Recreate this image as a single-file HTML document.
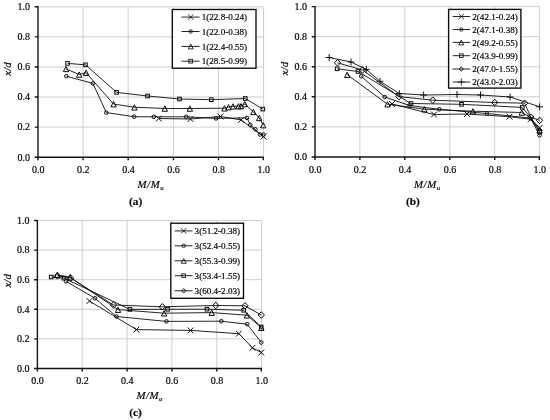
<!DOCTYPE html>
<html lang="en">
<head>
<meta charset="utf-8">
<title>x/d versus M/Mu</title>
<style>
html,body{margin:0;padding:0;background:#fff;}
body{width:550px;height:420px;overflow:hidden;}
svg{display:block;}
text{font-family:"Liberation Serif","DejaVu Serif",serif;fill:#000;stroke:#000;stroke-width:0.18px;}
.tk text{font-size:10px;}
.lg text{font-size:9.1px;}
.ti{font-size:10.8px;font-style:italic;letter-spacing:0.55px;}
.sub{font-size:6.8px;letter-spacing:0;}
.yt{letter-spacing:0.1px;}
.cap{font-size:11.4px;font-weight:bold;fill:#111;}
</style>
</head>
<body>
<svg width="550" height="420" viewBox="0 0 550 420">
<rect width="550" height="420" fill="#fff"/>
<path d="M83.1 6.8V157.2M38.0 127.1H263.6M128.2 6.8V157.2M38.0 97.0H263.6M173.4 6.8V157.2M38.0 67.0H263.6M218.5 6.8V157.2M38.0 36.9H263.6M263.6 6.8V157.2M38.0 6.8H263.6" stroke="#cecece" stroke-width="1" fill="none"/>
<g stroke="#0c0c0c" fill="none" stroke-width="0.9" stroke-linejoin="round">
<path d="M158.8 118.5L190.4 119.0L220.4 116.5L241.0 119.9L263.5 136.6"/>
<path d="M66.3 76.2L92.9 83.4L106.3 112.6L134.2 116.7L153.8 116.8L186.2 116.8L216.0 118.4L247.0 117.9L250.3 124.9L255.4 129.3L260.1 134.5L263.4 134.6"/>
<path d="M66.0 68.9L79.2 74.5L86.1 72.7L113.6 104.1L134.4 107.2L164.8 108.5L189.9 108.5L224.5 108.2L228.5 107.1L233.0 106.2L238.5 106.2L241.0 106.1L244.8 104.0L253.4 111.9L259.2 117.9L263.2 125.1"/>
<path d="M67.5 63.4L85.5 64.8L116.6 92.4L147.6 96.0L179.5 99.0L211.3 99.7L245.3 98.5L262.8 109.1"/>
</g>
<g stroke="#0c0c0c" fill="none" stroke-width="1.0">
<path d="M155.90 115.60L161.70 121.40M155.90 121.40L161.70 115.60"/>
<path d="M187.50 116.10L193.30 121.90M187.50 121.90L193.30 116.10"/>
<path d="M217.50 113.60L223.30 119.40M217.50 119.40L223.30 113.60"/>
<path d="M238.10 117.00L243.90 122.80M238.10 122.80L243.90 117.00"/>
<path d="M260.60 133.70L266.40 139.50M260.60 139.50L266.40 133.70"/>
<circle cx="66.30" cy="76.20" r="1.8"/>
<circle cx="92.90" cy="83.40" r="1.8"/>
<circle cx="106.30" cy="112.60" r="1.8"/>
<circle cx="134.20" cy="116.70" r="1.8"/>
<circle cx="153.80" cy="116.80" r="1.8"/>
<circle cx="186.20" cy="116.80" r="1.8"/>
<circle cx="216.00" cy="118.40" r="1.8"/>
<circle cx="247.00" cy="117.90" r="1.8"/>
<circle cx="250.30" cy="124.90" r="1.8"/>
<circle cx="255.40" cy="129.30" r="1.8"/>
<circle cx="260.10" cy="134.50" r="1.8"/>
<circle cx="263.40" cy="134.60" r="1.8"/>
<path d="M66.00 66.35L68.70 71.65L63.30 71.65Z"/>
<path d="M79.20 71.95L81.90 77.25L76.50 77.25Z"/>
<path d="M86.10 70.15L88.80 75.45L83.40 75.45Z"/>
<path d="M113.60 101.55L116.30 106.85L110.90 106.85Z"/>
<path d="M134.40 104.75L137.10 110.05L131.70 110.05Z"/>
<path d="M164.80 105.95L167.50 111.25L162.10 111.25Z"/>
<path d="M189.90 105.95L192.60 111.25L187.20 111.25Z"/>
<path d="M224.50 105.75L227.20 111.05L221.80 111.05Z"/>
<path d="M228.50 104.55L231.20 109.85L225.80 109.85Z"/>
<path d="M233.00 103.75L235.70 109.05L230.30 109.05Z"/>
<path d="M238.50 103.65L241.20 108.95L235.80 108.95Z"/>
<path d="M241.00 103.55L243.70 108.85L238.30 108.85Z"/>
<path d="M244.80 101.45L247.50 106.75L242.10 106.75Z"/>
<path d="M253.40 109.35L256.10 114.65L250.70 114.65Z"/>
<path d="M259.20 115.35L261.90 120.65L256.50 120.65Z"/>
<path d="M263.20 122.55L265.90 127.85L260.50 127.85Z"/>
<rect x="65.70" y="61.60" width="3.60" height="3.60"/>
<rect x="83.70" y="63.00" width="3.60" height="3.60"/>
<rect x="114.80" y="90.60" width="3.60" height="3.60"/>
<rect x="145.80" y="94.20" width="3.60" height="3.60"/>
<rect x="177.70" y="97.20" width="3.60" height="3.60"/>
<rect x="209.50" y="97.90" width="3.60" height="3.60"/>
<rect x="243.50" y="96.70" width="3.60" height="3.60"/>
<rect x="261.00" y="107.30" width="3.60" height="3.60"/>
</g>
<path d="M38.0 6.3V157.2H264.0M38.0 157.2v3M38.0 157.2h-3.3M83.1 157.2v3M38.0 127.1h-3.3M128.2 157.2v3M38.0 97.0h-3.3M173.4 157.2v3M38.0 67.0h-3.3M218.5 157.2v3M38.0 36.9h-3.3M263.3 157.2v3M38.0 6.8h-3.3" stroke="#141414" stroke-width="1.4" fill="none"/>
<g class="tk">
<text x="38.20" y="172.8" text-anchor="middle">0.0</text>
<text x="30.0" y="160.5" text-anchor="end">0.0</text>
<text x="83.32" y="172.8" text-anchor="middle">0.2</text>
<text x="30.0" y="130.4" text-anchor="end">0.2</text>
<text x="128.44" y="172.8" text-anchor="middle">0.4</text>
<text x="30.0" y="100.3" text-anchor="end">0.4</text>
<text x="173.56" y="172.8" text-anchor="middle">0.6</text>
<text x="30.0" y="70.3" text-anchor="end">0.6</text>
<text x="218.68" y="172.8" text-anchor="middle">0.8</text>
<text x="30.0" y="40.2" text-anchor="end">0.8</text>
<text x="263.80" y="172.8" text-anchor="middle">1.0</text>
<text x="30.0" y="10.1" text-anchor="end">1.0</text>
</g>
<text class="ti" x="150.6" y="187.7" text-anchor="middle">M/M<tspan class="sub" dy="2.3">u</tspan></text>
<text class="ti yt" transform="translate(10.6 69.0) rotate(-90)" text-anchor="middle">x/d</text>
<text class="cap" x="135.7" y="205.2" text-anchor="middle">(a)</text>
<rect x="172.3" y="9.5" width="83.7" height="58.7" fill="#fff" stroke="#0a0a0a" stroke-width="1.35"/>
<g stroke="#0c0c0c" fill="none" stroke-width="0.9">
<path d="M181.5 17.1H199.6"/>
<path d="M188.00 14.40L193.40 19.80M188.00 19.80L193.40 14.40" stroke-width="0.85"/>
<path d="M181.5 31.5H199.6"/>
<circle cx="190.70" cy="31.50" r="1.7" stroke-width="0.85"/>
<path d="M181.5 46.4H199.6"/>
<path d="M190.70 44.10L193.20 48.90L188.20 48.90Z" stroke-width="0.85"/>
<path d="M181.5 61.2H199.6"/>
<rect x="188.85" y="59.35" width="3.70" height="3.70" stroke-width="0.85"/>
</g>
<g class="lg">
<text x="201.7" y="20.35">1(22.8-0.24)</text>
<text x="201.7" y="34.75">1(22.0-0.38)</text>
<text x="201.7" y="49.65">1(22.4-0.55)</text>
<text x="201.7" y="64.45">1(28.5-0.99)</text>
</g>
<path d="M359.9 6.6V157.0M315.0 126.9H539.6M404.8 6.6V157.0M315.0 96.8H539.6M449.8 6.6V157.0M315.0 66.8H539.6M494.7 6.6V157.0M315.0 36.7H539.6M539.6 6.6V157.0M315.0 6.6H539.6" stroke="#cecece" stroke-width="1" fill="none"/>
<g stroke="#0c0c0c" fill="none" stroke-width="0.9" stroke-linejoin="round">
<path d="M392.0 104.0L434.0 114.5L467.0 114.0L509.5 116.7L530.6 119.2L539.7 127.8"/>
<path d="M361.3 76.3L384.7 97.0L409.5 105.5L439.3 109.3L486.9 113.5L530.6 118.2L539.6 135.3"/>
<path d="M347.2 74.7L387.5 104.2L424.3 109.2L472.9 111.2L521.8 112.5L530.8 117.7L539.6 130.2"/>
<path d="M337.2 68.8L358.0 71.5L411.0 103.5L461.5 104.3L522.2 107.4L530.8 117.6L539.6 132.0"/>
<path d="M337.5 62.8L362.5 70.0L399.0 96.6L432.8 100.2L494.7 102.5L524.6 103.2L530.8 117.2L539.6 120.4"/>
<path d="M329.2 57.5L351.0 62.0L366.3 69.4L380.0 81.3L399.3 93.5L423.6 95.0L457.0 94.5L480.5 95.0L510.1 97.0L539.6 106.8"/>
</g>
<g stroke="#0c0c0c" fill="none" stroke-width="1.0">
<path d="M389.10 101.10L394.90 106.90M389.10 106.90L394.90 101.10"/>
<path d="M431.10 111.60L436.90 117.40M431.10 117.40L436.90 111.60"/>
<path d="M464.10 111.10L469.90 116.90M464.10 116.90L469.90 111.10"/>
<path d="M506.60 113.80L512.40 119.60M506.60 119.60L512.40 113.80"/>
<path d="M527.70 116.30L533.50 122.10M527.70 122.10L533.50 116.30"/>
<path d="M536.80 124.90L542.60 130.70M536.80 130.70L542.60 124.90"/>
<circle cx="361.30" cy="76.30" r="1.8"/>
<circle cx="384.70" cy="97.00" r="1.8"/>
<circle cx="409.50" cy="105.50" r="1.8"/>
<circle cx="439.30" cy="109.30" r="1.8"/>
<circle cx="486.90" cy="113.50" r="1.8"/>
<circle cx="539.60" cy="135.30" r="1.8"/>
<path d="M347.20 72.15L349.90 77.45L344.50 77.45Z"/>
<path d="M387.50 101.65L390.20 106.95L384.80 106.95Z"/>
<path d="M424.30 106.65L427.00 111.95L421.60 111.95Z"/>
<path d="M472.90 108.75L475.60 114.05L470.20 114.05Z"/>
<path d="M521.80 109.95L524.50 115.25L519.10 115.25Z"/>
<path d="M539.60 127.65L542.30 132.95L536.90 132.95Z"/>
<rect x="335.40" y="67.00" width="3.60" height="3.60"/>
<rect x="356.20" y="69.70" width="3.60" height="3.60"/>
<rect x="409.20" y="101.70" width="3.60" height="3.60"/>
<rect x="459.70" y="102.50" width="3.60" height="3.60"/>
<rect x="520.40" y="105.60" width="3.60" height="3.60"/>
<rect x="537.80" y="130.20" width="3.60" height="3.60"/>
<path d="M337.50 59.50L340.60 62.80L337.50 66.10L334.40 62.80Z"/>
<path d="M362.50 66.70L365.60 70.00L362.50 73.30L359.40 70.00Z"/>
<path d="M399.00 93.30L402.10 96.60L399.00 99.90L395.90 96.60Z"/>
<path d="M432.80 96.90L435.90 100.20L432.80 103.50L429.70 100.20Z"/>
<path d="M494.70 99.20L497.80 102.50L494.70 105.80L491.60 102.50Z"/>
<path d="M524.60 99.90L527.70 103.20L524.60 106.50L521.50 103.20Z"/>
<path d="M530.80 113.90L533.90 117.20L530.80 120.50L527.70 117.20Z"/>
<path d="M539.60 117.10L542.70 120.40L539.60 123.70L536.50 120.40Z"/>
<path d="M325.80 57.50L332.60 57.50M329.20 54.10L329.20 60.90"/>
<path d="M347.60 62.00L354.40 62.00M351.00 58.60L351.00 65.40"/>
<path d="M362.90 69.40L369.70 69.40M366.30 66.00L366.30 72.80"/>
<path d="M376.60 81.30L383.40 81.30M380.00 77.90L380.00 84.70"/>
<path d="M395.90 93.50L402.70 93.50M399.30 90.10L399.30 96.90"/>
<path d="M420.20 95.00L427.00 95.00M423.60 91.60L423.60 98.40"/>
<path d="M453.60 94.50L460.40 94.50M457.00 91.10L457.00 97.90"/>
<path d="M477.10 95.00L483.90 95.00M480.50 91.60L480.50 98.40"/>
<path d="M506.70 97.00L513.50 97.00M510.10 93.60L510.10 100.40"/>
<path d="M536.20 106.80L543.00 106.80M539.60 103.40L539.60 110.20"/>
</g>
<path d="M315.0 6.1V157.0H540.0M315.0 157.0v3M315.0 157.0h-3.3M359.9 157.0v3M315.0 126.9h-3.3M404.8 157.0v3M315.0 96.8h-3.3M449.8 157.0v3M315.0 66.8h-3.3M494.7 157.0v3M315.0 36.7h-3.3M539.3 157.0v3M315.0 6.6h-3.3" stroke="#141414" stroke-width="1.4" fill="none"/>
<g class="tk">
<text x="315.20" y="172.6" text-anchor="middle">0.0</text>
<text x="307.0" y="160.3" text-anchor="end">0.0</text>
<text x="360.12" y="172.6" text-anchor="middle">0.2</text>
<text x="307.0" y="130.2" text-anchor="end">0.2</text>
<text x="405.04" y="172.6" text-anchor="middle">0.4</text>
<text x="307.0" y="100.1" text-anchor="end">0.4</text>
<text x="449.96" y="172.6" text-anchor="middle">0.6</text>
<text x="307.0" y="70.1" text-anchor="end">0.6</text>
<text x="494.88" y="172.6" text-anchor="middle">0.8</text>
<text x="307.0" y="40.0" text-anchor="end">0.8</text>
<text x="539.80" y="172.6" text-anchor="middle">1.0</text>
<text x="307.0" y="9.9" text-anchor="end">1.0</text>
</g>
<text class="ti" x="427.1" y="187.7" text-anchor="middle">M/M<tspan class="sub" dy="2.3">u</tspan></text>
<text class="ti yt" transform="translate(288.3 68.4) rotate(-90)" text-anchor="middle">x/d</text>
<text class="cap" x="412.9" y="205.2" text-anchor="middle">(b)</text>
<rect x="448.6" y="9.4" width="72.3" height="78.7" fill="#fff" stroke="#0a0a0a" stroke-width="1.35"/>
<g stroke="#0c0c0c" fill="none" stroke-width="0.9">
<path d="M452.7 16.5H470.2"/>
<path d="M458.60 13.80L464.00 19.20M458.60 19.20L464.00 13.80" stroke-width="0.85"/>
<path d="M452.7 29.5H470.2"/>
<circle cx="461.30" cy="29.50" r="1.7" stroke-width="0.85"/>
<path d="M452.7 42.4H470.2"/>
<path d="M461.30 40.10L463.80 44.90L458.80 44.90Z" stroke-width="0.85"/>
<path d="M452.7 55.7H470.2"/>
<rect x="459.45" y="53.85" width="3.70" height="3.70" stroke-width="0.85"/>
<path d="M452.7 69.0H470.2"/>
<path d="M461.30 66.70L463.30 69.00L461.30 71.30L459.30 69.00Z" stroke-width="0.85"/>
<path d="M452.7 82.0H470.2"/>
<path d="M457.90 82.00L464.70 82.00M461.30 78.60L461.30 85.40" stroke-width="0.85"/>
</g>
<g class="lg">
<text x="472.3" y="19.75">2(42.1-0.24)</text>
<text x="472.3" y="32.75">2(47.1-0.38)</text>
<text x="472.3" y="45.65">2(49.2-0.55)</text>
<text x="472.3" y="58.95">2(43.9-0.99)</text>
<text x="472.3" y="72.25">2(47.0-1.55)</text>
<text x="472.3" y="85.25">2(43.0-2.03)</text>
</g>
<path d="M82.2 220.5V368.5M37.4 338.9H261.6M127.1 220.5V368.5M37.4 309.3H261.6M171.9 220.5V368.5M37.4 279.7H261.6M216.8 220.5V368.5M37.4 250.1H261.6M261.6 220.5V368.5M37.4 220.5H261.6" stroke="#cecece" stroke-width="1" fill="none"/>
<g stroke="#0c0c0c" fill="none" stroke-width="0.9" stroke-linejoin="round">
<path d="M89.5 301.0L136.4 329.6L190.5 330.4L238.8 333.7L252.5 347.8L261.3 352.5"/>
<path d="M66.0 281.3L95.0 298.3L116.5 316.5L166.4 321.4L221.3 321.2L247.2 324.2L261.3 342.5"/>
<path d="M57.2 274.9L70.0 277.2L118.0 309.6L164.1 313.2L211.7 312.6L247.0 315.2L261.3 327.6"/>
<path d="M51.2 277.0L64.0 278.2L129.9 309.4L167.6 309.3L207.0 309.2L243.7 310.3L261.3 327.0"/>
<path d="M57.4 275.8L70.6 278.0L113.5 305.0L162.3 306.8L215.8 305.5L245.0 305.8L261.3 315.0"/>
</g>
<g stroke="#0c0c0c" fill="none" stroke-width="1.0">
<path d="M86.60 298.10L92.40 303.90M86.60 303.90L92.40 298.10"/>
<path d="M133.50 326.70L139.30 332.50M133.50 332.50L139.30 326.70"/>
<path d="M187.60 327.50L193.40 333.30M187.60 333.30L193.40 327.50"/>
<path d="M235.90 330.80L241.70 336.60M235.90 336.60L241.70 330.80"/>
<path d="M249.60 344.90L255.40 350.70M249.60 350.70L255.40 344.90"/>
<path d="M258.40 349.60L264.20 355.40M258.40 355.40L264.20 349.60"/>
<circle cx="66.00" cy="281.30" r="1.8"/>
<circle cx="95.00" cy="298.30" r="1.8"/>
<circle cx="116.50" cy="316.50" r="1.8"/>
<circle cx="166.40" cy="321.40" r="1.8"/>
<circle cx="221.30" cy="321.20" r="1.8"/>
<circle cx="247.20" cy="324.20" r="1.8"/>
<circle cx="261.30" cy="342.50" r="1.8"/>
<path d="M57.20 272.45L59.90 277.75L54.50 277.75Z"/>
<path d="M70.00 274.75L72.70 280.05L67.30 280.05Z"/>
<path d="M118.00 307.15L120.70 312.45L115.30 312.45Z"/>
<path d="M164.10 310.75L166.80 316.05L161.40 316.05Z"/>
<path d="M211.70 310.15L214.40 315.45L209.00 315.45Z"/>
<path d="M247.00 312.75L249.70 318.05L244.30 318.05Z"/>
<path d="M261.30 325.15L264.00 330.45L258.60 330.45Z"/>
<rect x="49.40" y="275.20" width="3.60" height="3.60"/>
<rect x="62.20" y="276.40" width="3.60" height="3.60"/>
<rect x="128.10" y="307.60" width="3.60" height="3.60"/>
<rect x="165.80" y="307.50" width="3.60" height="3.60"/>
<rect x="205.20" y="307.40" width="3.60" height="3.60"/>
<rect x="241.90" y="308.50" width="3.60" height="3.60"/>
<rect x="259.50" y="325.20" width="3.60" height="3.60"/>
<path d="M57.40 272.50L60.50 275.80L57.40 279.10L54.30 275.80Z"/>
<path d="M70.60 274.70L73.70 278.00L70.60 281.30L67.50 278.00Z"/>
<path d="M113.50 301.70L116.60 305.00L113.50 308.30L110.40 305.00Z"/>
<path d="M162.30 303.50L165.40 306.80L162.30 310.10L159.20 306.80Z"/>
<path d="M215.80 302.20L218.90 305.50L215.80 308.80L212.70 305.50Z"/>
<path d="M245.00 302.50L248.10 305.80L245.00 309.10L241.90 305.80Z"/>
<path d="M261.30 311.70L264.40 315.00L261.30 318.30L258.20 315.00Z"/>
</g>
<path d="M37.4 220.0V368.5H262.0M37.4 368.5v3M37.4 368.5h-3.3M82.2 368.5v3M37.4 338.9h-3.3M127.1 368.5v3M37.4 309.3h-3.3M171.9 368.5v3M37.4 279.7h-3.3M216.8 368.5v3M37.4 250.1h-3.3M261.3 368.5v3M37.4 220.5h-3.3" stroke="#141414" stroke-width="1.4" fill="none"/>
<g class="tk">
<text x="37.60" y="384.1" text-anchor="middle">0.0</text>
<text x="29.4" y="371.8" text-anchor="end">0.0</text>
<text x="82.44" y="384.1" text-anchor="middle">0.2</text>
<text x="29.4" y="342.2" text-anchor="end">0.2</text>
<text x="127.28" y="384.1" text-anchor="middle">0.4</text>
<text x="29.4" y="312.6" text-anchor="end">0.4</text>
<text x="172.12" y="384.1" text-anchor="middle">0.6</text>
<text x="29.4" y="283.0" text-anchor="end">0.6</text>
<text x="216.96" y="384.1" text-anchor="middle">0.8</text>
<text x="29.4" y="253.4" text-anchor="end">0.8</text>
<text x="261.80" y="384.1" text-anchor="middle">1.0</text>
<text x="29.4" y="223.8" text-anchor="end">1.0</text>
</g>
<text class="ti" x="149.4" y="398.6" text-anchor="middle">M/M<tspan class="sub" dy="2.3">u</tspan></text>
<text class="ti yt" transform="translate(10.5 280.8) rotate(-90)" text-anchor="middle">x/d</text>
<text class="cap" x="135.5" y="415.6" text-anchor="middle">(c)</text>
<rect x="170.8" y="223.2" width="72.7" height="75.1" fill="#fff" stroke="#0a0a0a" stroke-width="1.35"/>
<g stroke="#0c0c0c" fill="none" stroke-width="0.9">
<path d="M174.7 230.9H192.5"/>
<path d="M181.00 228.20L186.40 233.60M181.00 233.60L186.40 228.20" stroke-width="0.85"/>
<path d="M174.7 245.8H192.5"/>
<circle cx="183.70" cy="245.80" r="1.7" stroke-width="0.85"/>
<path d="M174.7 260.8H192.5"/>
<path d="M183.70 258.50L186.20 263.30L181.20 263.30Z" stroke-width="0.85"/>
<path d="M174.7 275.7H192.5"/>
<rect x="181.85" y="273.85" width="3.70" height="3.70" stroke-width="0.85"/>
<path d="M174.7 290.8H192.5"/>
<path d="M183.70 288.50L185.70 290.80L183.70 293.10L181.70 290.80Z" stroke-width="0.85"/>
</g>
<g class="lg">
<text x="194.6" y="234.15">3(51.2-0.38)</text>
<text x="194.6" y="249.05">3(52.4-0.55)</text>
<text x="194.6" y="264.05">3(55.3-0.99)</text>
<text x="194.6" y="278.95">3(53.4-1.55)</text>
<text x="194.6" y="294.05">3(60.4-2.03)</text>
</g>
</svg>
</body>
</html>
